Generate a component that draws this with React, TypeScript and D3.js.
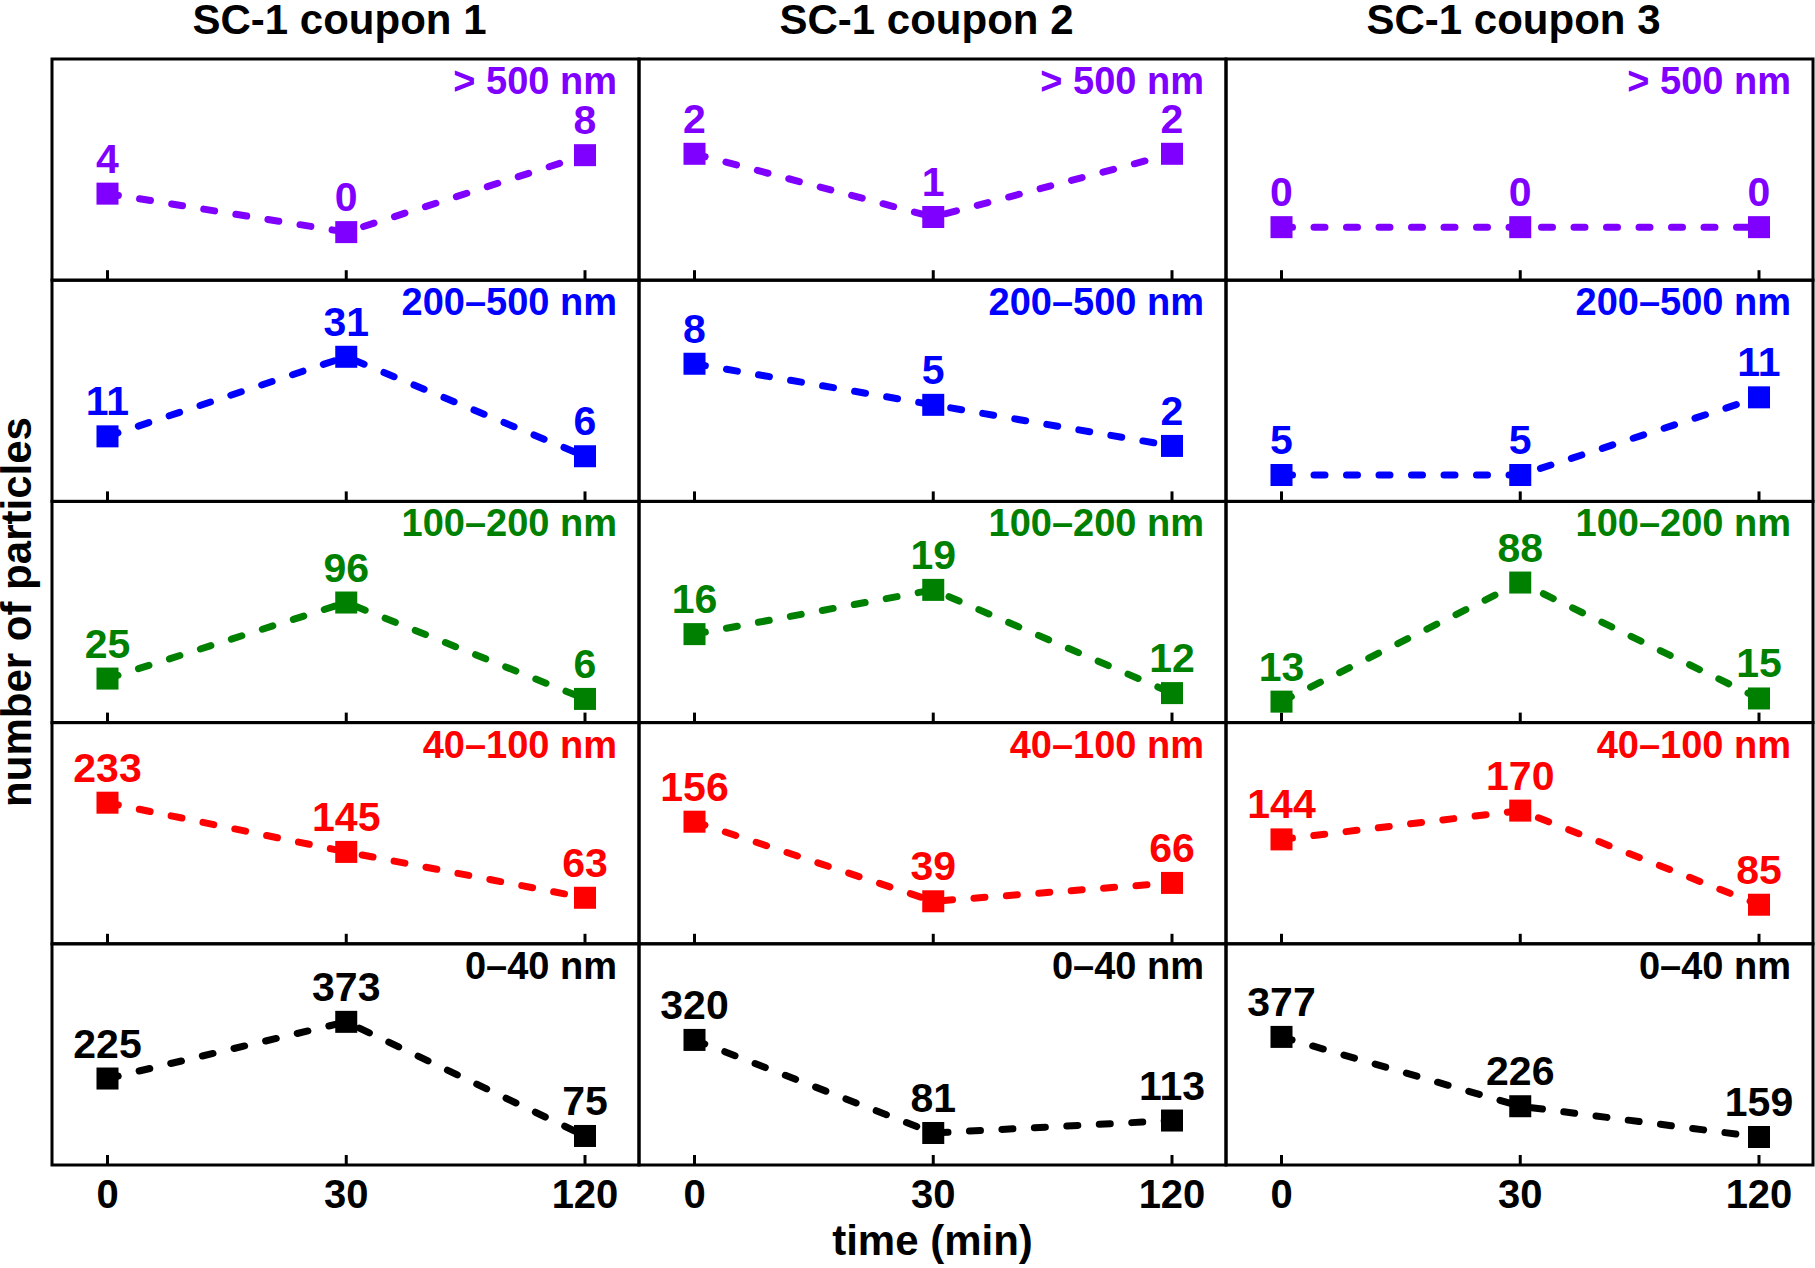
import React from 'react';
import * as d3 from 'd3';

// time points (min)
const times = ['0', '30', '120'];
const coupons = ['SC-1 coupon 1', 'SC-1 coupon 2', 'SC-1 coupon 3'];
const sizeBins = ['> 500 nm', '200–500 nm', '100–200 nm', '40–100 nm', '0–40 nm'];
const binColors = ['#8000ff', '#0000ff', '#008000', '#ff0000', '#000000'];

// particle counts, [coupon][time]
const over500 = [[4, 0, 8], [2, 1, 2], [0, 0, 0]];
const nm200to500 = [[11, 31, 6], [8, 5, 2], [5, 5, 11]];
const nm100to200 = [[25, 96, 6], [16, 19, 12], [13, 88, 15]];
const nm40to100 = [[233, 145, 63], [156, 39, 66], [144, 170, 85]];
const nm0to40 = [[225, 373, 75], [320, 81, 113], [377, 226, 159]];
const counts = [over500, nm200to500, nm100to200, nm40to100, nm0to40];

// each panel has its own y range, [bin][coupon]
const yLimits = [
  [[-5, 18], [0, 3.5], [-1, 3.17]],
  [[-5.35, 50.25], [-2.05, 14.1], [2.96, 20.05]],
  [[-16.1, 190.4], [10, 25], [-0.2, 139.1]],
  [[-19.3, 376.2], [-23.5, 301.7], [49.7, 249.5]],
  [[-0.8, 576.8], [-1.2, 566.8], [98, 579.8]],
];

const W = 1815;
const H = 1268;
const left = 52;
const top = 59;
const panelW = 587;
const panelH = 221.2;
const font = '"Liberation Sans", Arial, sans-serif';

const Panel = ({ row, col }: { row: number; col: number }) => {
  const x = d3.scalePoint<string>().domain(times).range([55.5, panelW - 54]);
  const y = d3.scaleLinear().domain(yLimits[row][col]).range([panelH, 0]);
  const vals = counts[row][col];
  const color = binColors[row];
  const pts = vals.map((v, i) => [x(times[i]) as number, y(v)] as [number, number]);
  const line = d3.line();
  const last = row === sizeBins.length - 1;

  return (
    <g transform={`translate(${left + col * panelW},${top + row * panelH})`}>
      {times.map((t) => (
        <line key={t} x1={x(t)} x2={x(t)} y1={panelH} y2={panelH - 10} stroke="#000" strokeWidth={3} />
      ))}
      <path d={line(pts) || ''} fill="none" stroke={color} strokeWidth={7}
        strokeDasharray="11 21.5" strokeLinecap="round" />
      {pts.map(([px, py], i) => (
        <g key={i}>
          <rect x={px - 11} y={py - 11} width={22} height={22} fill={color} />
          <text x={px} y={py - 21} textAnchor="middle" fontSize={41} fontWeight="bold" fill={color}>
            {vals[i]}
          </text>
        </g>
      ))}
      <text x={panelW - 22} y={35} textAnchor="end" fontSize={38} fontWeight="bold" fill={color}>
        {sizeBins[row]}
      </text>
      <rect x={0} y={0} width={panelW} height={panelH} fill="none" stroke="#000" strokeWidth={3} />
      {last && times.map((t) => (
        <text key={t} x={x(t)} y={panelH + 43} textAnchor="middle" fontSize={40} fontWeight="bold">
          {t}
        </text>
      ))}
    </g>
  );
};

export default function App() {
  return (
    <svg width={W} height={H} viewBox={`0 0 ${W} ${H}`}
      style={{ position: 'absolute', left: 0, top: 0, background: '#fff' }} fontFamily={font}>
      {coupons.map((c, i) => (
        <text key={c} x={left + i * panelW + panelW / 2 - 6} y={34} textAnchor="middle"
          fontSize={42} fontWeight="bold">{c}</text>
      ))}
      {sizeBins.map((_, r) => coupons.map((_, c) => <Panel key={`${r}-${c}`} row={r} col={c} />))}
      <text x={left + 1.5 * panelW} y={1255} textAnchor="middle" fontSize={42} fontWeight="bold">time (min)</text>
      <text transform={`translate(31,${top + 2.5 * panelH}) rotate(-90)`} textAnchor="middle"
        fontSize={42} fontWeight="bold">number of particles</text>
    </svg>
  );
}
